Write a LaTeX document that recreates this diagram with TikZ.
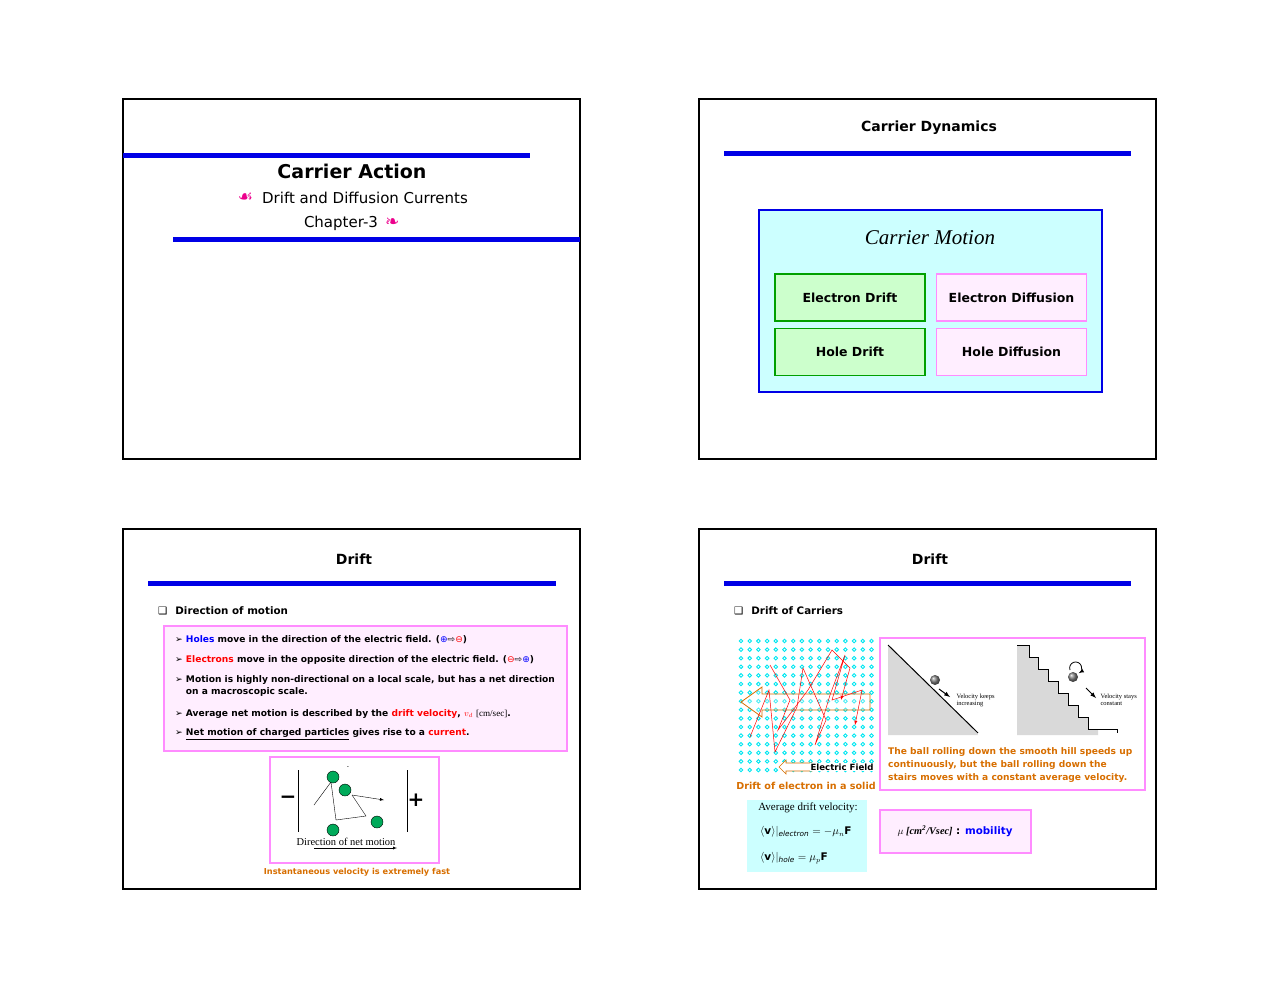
\documentclass[tikz,border=0pt]{standalone}
\usepackage{fontspec}
\setmainfont{DejaVu Sans}
\newfontfamily\serf{Liberation Serif}
\usepackage{amsmath}
\usetikzlibrary{arrows,shapes.geometric,positioning}
\definecolor{barblue}{RGB}{0,0,230}
\definecolor{pinkbd}{RGB}{255,140,255}
\definecolor{pinkbg}{RGB}{255,238,255}
\definecolor{cyanbg}{RGB}{204,255,255}
\definecolor{greenbg}{RGB}{204,255,204}
\definecolor{greenbd}{RGB}{0,160,0}
\definecolor{orng}{RGB}{215,110,0}
\definecolor{dotc}{RGB}{0,230,240}
\definecolor{ballg}{RGB}{0,170,90}
\tikzset{
  slide/.style={draw=black, line width=1.2pt},
  bar/.style={draw=barblue, line width=5pt},
  ttl/.style={font=\bfseries\fontsize{14}{16}\selectfont},
  carrierbox/.style={draw=greenbd, fill=greenbg, line width=1.5pt, minimum width=150pt, minimum height=47pt, font=\bfseries\fontsize{12.5}{14}\selectfont},
  diffbox/.style={carrierbox, draw=pinkbd, fill=pinkbg},
  item/.style={anchor=west, align=left, inner sep=0pt, font=\bfseries\fontsize{9.1}{12.5}\selectfont},
  small/.style={font=\bfseries\fontsize{9.6}{11}\selectfont}
}
\begin{document}
\begin{tikzpicture}[x=1pt, y=-1pt]
  \useasboundingbox (0,0) rectangle (1280,989);
  % slide frames
  \foreach \x/\y in {123/99, 699/99, 123/529, 699/529}
    \draw[slide] (\x,\y) rectangle ++(457,360);

  % slide 1
  \draw[bar] (123,155) -- (530,155);
  \draw[bar] (173,239) -- (580,239);
  \node[font=\bfseries\fontsize{19}{21}\selectfont] (title) at (352,171) {Carrier Action};
  \node[font=\fontsize{15}{17}\selectfont] (sub) at (365,198) {Drift and Diffusion Currents};
  \node[text=magenta, font=\fontsize{17}{17}\selectfont, left=2pt of sub] (orn1) {☙};
  \node[font=\fontsize{15}{17}\selectfont] (chap) at (341,223) {Chapter-3};
  \node[text=magenta, font=\fontsize{17}{17}\selectfont, right=0pt of chap] (orn2) {❧};

  % slide 2
  \node[ttl] (dyn) at (929,128) {Carrier Dynamics};
  \draw[bar] (724,153) -- (1131,153);
  \draw[draw=barblue, fill=cyanbg, line width=1.5pt] (759,210) rectangle (1102,392);
  \node[font=\serf\itshape\fontsize{21}{23}\selectfont] (motion) at (930,238) {Carrier Motion};
  \node[carrierbox] (edrift) at (850,297.5) {Electron Drift};
  \node[carrierbox, below=6pt of edrift] (hdrift) {Hole Drift};
  \node[diffbox, right=10pt of edrift] (ediff) {Electron Diffusion};
  \node[diffbox, right=10pt of hdrift] (hdiff) {Hole Diffusion};

  % slide 3
  \node[ttl] (drift1) at (354,559) {Drift};
  \draw[bar] (148,583) -- (556,583);
  \node[item, font=\bfseries\fontsize{10.3}{12}\selectfont] (dir) at (158,611) {❑\hspace{8pt}Direction of motion};
  \draw[draw=pinkbd, fill=pinkbg, line width=2pt] (164,626) rectangle (567,751);
  \node[item] (b1) at (175,640) {➢ \textcolor{blue}{Holes} move in the direction of the electric field. ({\mdseries\textcolor{blue}{⊕}⇨\textcolor{red}{⊖}})};
  \node[item] (b2) at (175,660) {➢ \textcolor{red}{Electrons} move in the opposite direction of the electric field. ({\mdseries\textcolor{red}{⊖}⇨\textcolor{blue}{⊕}})};
  \node[item] (b3) at (175,686) {➢ Motion is highly non-directional on a local scale, but has a net direction\\\phantom{➢ }on a macroscopic scale.};
  \node[item] (b4) at (175,714) {➢ Average net motion is described by the \textcolor{red}{drift velocity}, \textcolor{red}{$v_d$} {\serf\mdseries [cm/sec]}.};
  \node[item] (b5) at (175,734) {➢ \underline{Net motion of charged particles} gives rise to a \textcolor{red}{current}.};
  \draw[draw=pinkbd, line width=2pt] (270,757) rectangle (439,863);
  \draw[line width=1pt] (298,770) -- (298,832) (407,770) -- (407,832);
  \node[font=\bfseries\fontsize{20}{20}\selectfont] (minus) at (288,800) {−};
  \node[font=\bfseries\fontsize{20}{20}\selectfont] (plus) at (416,800) {+};
  \node[font=\fontsize{6}{6}\selectfont] (dash) at (348,768) {-};
  \draw (314,805) -- (331,782) -- (336,820) -- (366,816) -- (352,795);
  \draw[-latex] (352,795) -- (384,800);
  \foreach \cx/\cy [count=\i] in {333/777, 345/790, 377/822, 333/830}
    \node[circle, fill=ballg, draw=black, line width=0.4pt, minimum size=12pt, inner sep=0pt] (ball\i) at (\cx,\cy) {};
  \node[font=\serf\fontsize{10.5}{11}\selectfont] (netm) at (346,842) {Direction of net motion};
  \coordinate (n1) at (314,848);
  \coordinate (n2) at (397,848);
  \draw[-latex] (n1) -- (n2);
  \node[small, text=orng, font=\bfseries\fontsize{8.2}{9}\selectfont] (inst) at (357,872) {Instantaneous velocity is extremely fast};

  % slide 4
  \node[ttl] (drift2) at (930,559) {Drift};
  \draw[bar] (724,583) -- (1131,583);
  \node[item, font=\bfseries\fontsize{10.3}{12}\selectfont] (doc) at (734,611) {❑\hspace{8pt}Drift of Carriers};
  \foreach \i in {0,...,15}
    \foreach \j in {0,...,15}
      \draw[dotc, line width=0.9pt] (741+\i*8.7,641+\j*8.6) circle (1.8pt);
  \draw[orng, fill=white, fill opacity=0.3, line width=0.8pt]
    (870,694) -- (762,694) -- (762,687) -- (741,702) -- (762,717) -- (762,710) -- (870,710) -- cycle;
  \draw[red, -latex, line width=0.5pt] (750,737) -- (769,690) -- (775,752) -- (797,707) -- (803,668)
    -- (826,720) -- (815,745) -- (830,695) -- (845,655) -- (832,700) -- (862,690) -- (855,725);
  \draw[red, -latex, line width=0.5pt] (770,665) -- (790,700) -- (778,730) -- (808,690) -- (832,650) -- (850,668) -- (841,700);
  \draw[orng, fill=white, line width=0.6pt] (812,763) -- (786,763) -- (786,760) -- (779,767) -- (786,774) -- (786,771) -- (812,771) -- cycle;
  \node[small, font=\bfseries\fontsize{8.6}{9}\selectfont, fill=white, inner sep=0.5pt] (efield) at (842,767) {Electric Field};
  \node[small, text=orng] (dsolid) at (806,786) {Drift of electron in a solid};
  \draw[draw=pinkbd, line width=2pt] (880,638) rectangle (1145,790);
  \fill[gray!30] (888,645) -- (975,730) -- (978,735) -- (888,735) -- cycle;
  \draw[line width=1pt] (888,645) -- (975,730) -- (978,733);
  \shade[ball color=gray] (935,680) circle (5pt);
  \draw[-latex, line width=1pt] (939,689) -- (950,697);
  \node[anchor=west, align=left, font=\serf\fontsize{6.5}{7}\selectfont] (vinc) at (953,700) {Velocity keeps\\increasing};
  \fill[gray!30] (1017,645) -- (1029,645) |- (1038,657) |- (1048,669) |- (1058,681) |- (1068,693) |- (1078,705) |- (1088,717) |- (1098,729) -- (1098,735) -- (1017,735) -- cycle;
  \draw[line width=1pt] (1017,645) -- (1029,645) |- (1038,657) |- (1048,669) |- (1058,681) |- (1068,693) |- (1078,705) |- (1088,717) |- (1098,729) -- (1117,729) -- (1117,733);
  \shade[ball color=gray] (1073,677) circle (5pt);
  \draw[-latex, line width=0.8pt] (1070,670) arc (200:-60:6pt);
  \draw[-latex, line width=1pt] (1086,688) -- (1096,698);
  \node[anchor=west, align=left, font=\serf\fontsize{6.5}{7}\selectfont] (vcon) at (1097,700) {Velocity stays\\constant};
  \node[anchor=north west, align=left, inner sep=0pt, text=orng, font=\bfseries\fontsize{9.1}{13}\selectfont] (ball) at (888,747)
    {The ball rolling down the smooth hill speeds up\\continuously, but the ball rolling down the\\stairs moves with a constant average velocity.};
  \draw[fill=cyanbg, draw=none] (747,800) rectangle (867,872);
  \node[font=\serf\fontsize{11}{12}\selectfont] (avg) at (808,808) {Average drift velocity:};
  \node[font=\fontsize{10.5}{11}\selectfont, anchor=west, inner sep=0pt] (ve) at (760,832) {$\langle\mathbf{v}\rangle|_{\mathit{electron}}=-\mu_n\mathbf{F}$};
  \node[font=\fontsize{10.5}{11}\selectfont, anchor=west, inner sep=0pt] (vh) at (760,858) {$\langle\mathbf{v}\rangle|_{\mathit{hole}}=\mu_p\mathbf{F}$};
  \draw[draw=pinkbd, fill=pinkbg, line width=2pt] (880,810) rectangle (1031,853);
  \node[font=\bfseries\fontsize{10.3}{12}\selectfont] (mob) at (955,831) {{\serf\itshape$\mu$ [cm\textsuperscript{2}/Vsec]} : \textcolor{blue}{mobility}};
\end{tikzpicture}
\end{document}
